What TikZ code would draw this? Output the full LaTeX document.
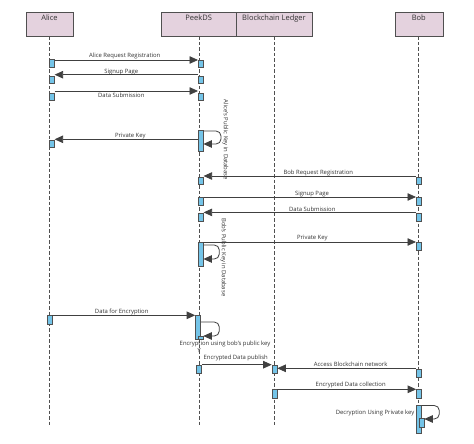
\documentclass[tikz,border=0pt]{standalone}
\usepackage{fontspec}
\setmainfont{Open Sans}
\usetikzlibrary{arrows.meta}
\definecolor{hdrfill}{HTML}{E4D2DE}
\definecolor{actfill}{HTML}{74C4E8}
\definecolor{edge}{HTML}{505050}
\definecolor{txt}{HTML}{333333}
\tikzset{
  hdr/.style={draw=edge, fill=hdrfill, line width=0.8pt, minimum height=23.4pt, inner sep=0pt, anchor=north west},
  hdrtext/.style={anchor=north, font=\fontsize{7.5}{8}\selectfont, text=txt, inner sep=0pt},
  life/.style={draw=edge, line width=0.6pt, dash pattern=on 3.5pt off 2pt},
  act/.style={draw=edge, fill=actfill, line width=0.6pt, minimum width=5pt, inner sep=0pt, anchor=north},
  msg/.style={draw=edge!80!black, line width=0.8pt, -{Triangle[length=8.5pt,width=7.5pt]}},
  lbl/.style={font=\fontsize{5.9}{6}\selectfont, text=txt, inner sep=0pt},
}
\newcommand{\actbox}[4]{\node[act, minimum height=#4pt-#3pt] (#1) at (#2,#3) {};}
\begin{document}
\begin{tikzpicture}[x=1pt,y=-1pt]
\useasboundingbox (0,0) rectangle (474,444);
\fill[white] (0,0) rectangle (474,444);
% headers
\node[hdr, minimum width=47.6pt] (alice) at (25.7,12.3) {};
\node[hdr, minimum width=75.3pt] (peek) at (161,12.3) {};
\node[hdr, minimum width=75.3pt] (chain) at (236.3,12.3) {};
\node[hdr, minimum width=47.6pt] (bob) at (395,12.3) {};
\node[hdrtext] (alicet) at (49.5,14.3) {Alice};
\node[hdrtext] (peekt) at (198.7,14.3) {PeekDS};
\node[hdrtext] (chaint) at (274,14.3) {Blockchain Ledger};
\node[hdrtext] (bobt) at (418.8,14.3) {Bob};
% lifeline ends
\coordinate (aend) at (49.3,426);
\coordinate (pend) at (199,426);
\coordinate (cend) at (274.3,426);
\coordinate (bend) at (418.7,433);
\draw[life] (alice.south -| aend) -- (aend);
\draw[life] (peek.south -| pend) -- (pend);
\draw[life] (chain.south -| cend) -- (cend);
\draw[life] (bob.south -| bend) -- (bend);
% activations
\actbox{A1}{51.8}{59.3}{66.7}
\actbox{P1}{200.8}{59.8}{67}
\actbox{A2}{51.8}{76}{83}
\actbox{P2}{200.8}{76}{83}
\actbox{A3}{51.8}{92.7}{100}
\actbox{P3}{200.8}{92.7}{100}
\actbox{P4}{200.6}{130}{150.7}
\actbox{A4}{51.8}{140}{147}
\actbox{P5}{200.8}{176.7}{184}
\actbox{B1}{418.8}{176.7}{184}
\actbox{P6}{200.8}{197}{205}
\actbox{B2}{418.8}{197}{205}
\actbox{P7}{200.8}{212.5}{221}
\actbox{B3}{418.8}{212.5}{221}
\actbox{P8}{200.6}{242.3}{266.3}
\actbox{B4}{418.8}{242.3}{249.7}
\actbox{A5}{49.5}{315}{324}
\actbox{P9}{198}{315}{338.5}
\actbox{P9n}{200.5}{335.5}{339}
\actbox{P10}{199.2}{365.3}{372.7}
\actbox{L1}{274.5}{365.3}{373}
\actbox{B5}{419}{368.7}{376.7}
\actbox{L2}{274.5}{389.3}{397.7}
\actbox{B6}{419}{389.3}{397.7}
\actbox{B7}{418.7}{405.3}{433.3}
\actbox{B7n}{421.5}{418}{426.7}
% messages
\draw[msg] (A1.east |- 0,60) -- (P1.west |- 0,60);
\node[lbl] (m1) at (124.7,56.3) {Alice Request Registration};
\draw[msg] (P2.west |- 0,74.7) -- (A2.east |- 0,74.7);
\node[lbl, anchor=base] (m2) at (121.3,73.8) {Signup Page};
\draw[msg] (A3.east |- 0,91) -- (P3.west |- 0,91);
\node[lbl] (m3) at (121.3,95.3) {Data Submission};
\draw[msg] (P4.west |- 0,139.3) -- (A4.east |- 0,139.3);
\node[lbl] (m4) at (130.3,136.5) {Private Key};
\draw[msg, rounded corners=5pt] (P4.east |- 0,131) -- (221,131) -- (221,144) -- (P4.east |- 0,144);
\node[lbl, rotate=-90] (r1) at (225.5,140) {Alice's Public Key in Database};
\draw[msg] (B1.west |- 0,176) -- (P5.east |- 0,176);
\node[lbl] (m5) at (318.3,173.3) {Bob Request Registration};
\draw[msg] (P6.east |- 0,197) -- (B2.west |- 0,197);
\node[lbl] (m6) at (312,193.7) {Signup Page};
\draw[msg] (B3.west |- 0,212.4) -- (P7.east |- 0,212.4);
\node[lbl] (m7) at (312.3,209) {Data Submission};
\draw[msg] (P8.east |- 0,242) -- (B4.west |- 0,242);
\node[lbl] (m8) at (312.3,238.5) {Private Key};
\draw[msg, rounded corners=5pt] (P8.east |- 0,245) -- (219.3,245) -- (219.3,259) -- (P8.east |- 0,259);
\node[lbl, rotate=-90] (r2) at (223.5,257.3) {Bob's Public Key in Database};
\draw[msg] (A5.east |- 0,315.3) -- (P9.west |- 0,315.3);
\node[lbl] (m9) at (121.7,311.7) {Data for Encryption};
\draw[msg, rounded corners=5pt] (P9.east |- 0,322) -- (219.3,322) -- (219.3,336) -- (P9n.east |- 0,336);
\node[lbl] (m10) at (225,344) {Encryption using bob's public key};
\coordinate (ymk) at (199,352);
\draw[edge, line width=0.6pt] (ymk) -- ++(0,-2.5) -- ++(-1.5,-1) (ymk) ++(0,-2.5) -- ++(1.5,-1);
\draw[msg] (P10.east |- 0,364.7) -- (L1.west |- 0,364.7);
\node[lbl] (m11) at (235.7,358.3) {Encrypted Data publish};
\draw[msg] (B5.west |- 0,368.3) -- (L1.east |- 0,368.3);
\node[lbl] (m12) at (350.7,364) {Access Blockchain network};
\draw[msg] (L2.east |- 0,389.3) -- (B6.west |- 0,389.3);
\node[lbl] (m13) at (350.7,385) {Encrypted Data collection};
\draw[msg, rounded corners=5pt] (B7.east |- 0,405.5) -- (439.3,405.5) -- (439.3,419) -- (B7n.east |- 0,419);
\node[lbl, anchor=east] (m14) at (414.5,413.3) {Decryption Using Private key};
\end{tikzpicture}
\end{document}
